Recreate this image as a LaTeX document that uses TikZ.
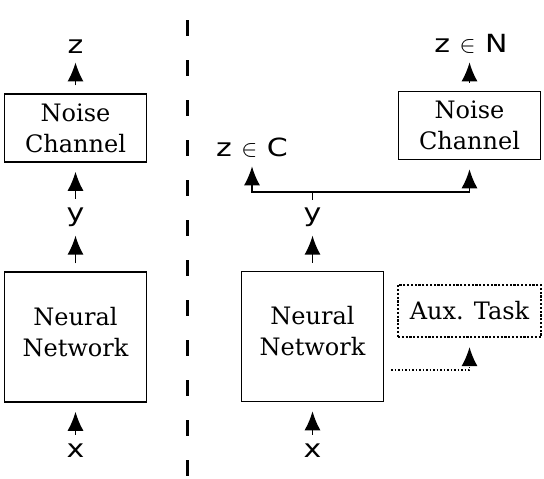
\documentclass[tikz,border=0pt]{standalone}
\usepackage{fontspec}
\setmainfont{DejaVu Serif}
\newfontfamily\signalfont[FakeStretch=1.2]{DejaVu Sans}
\usetikzlibrary{arrows.meta}

\tikzset{
  block/.style={draw, line width=0.75pt, inner sep=0pt, align=center,
    font=\fontsize{12}{15.5}\selectfont},
  netblock/.style={block, minimum width=71pt, minimum height=65pt, text depth=5.5pt},
  chanblock/.style={block, minimum width=71pt, minimum height=34pt},
  auxblock/.style={block, minimum width=71.5pt, minimum height=26pt,
    line width=1.1pt, dash pattern=on 1.1pt off 0.8pt},
  sig/.style={inner sep=0pt, anchor=base, font=\signalfont\fontsize{12.5}{15}\selectfont},
  arr/.style={-{Latex[length=9.5pt,width=8pt]}, line width=0.75pt,
    shorten <=4pt, shorten >=4.5pt},
}

\begin{document}
\begin{tikzpicture}[x=0.5pt,y=-0.5pt]
   \useasboundingbox (0,0) rectangle (544,478);

   % separator
   \draw[line width=1.5pt, dash pattern=on 8pt off 12pt] (187,20) -- (187,478);

   % left: plain network
   \begin{scope}
     \node[chanblock] (nc1) at (75.5,128) {Noise\\Channel};
     \node[netblock] (nn1) at (75.5,337) {Neural\\Network};
     \node[sig] (z1) at (75.5,53) {z};
     \node[sig] (y1) at (75.5,221) {y};
     \node[sig] (x1) at (75.5,457) {x};
     \draw[arr] (x1) -- (nn1);
     \draw[arr] (nn1) -- (y1);
     \draw[arr] (y1) -- (nc1);
     \draw[arr] (nc1) -- (z1);
   \end{scope}

   % right: split output + auxiliary task
   \begin{scope}
     \node[netblock] (nn2) at (312.5,336.5) {Neural\\Network};
     \node[chanblock] (nc2) at (469.5,125.5) {Noise\\Channel};
     \node[auxblock] (aux) at (469.5,311) {Aux. Task};
     \node[sig] (x2) at (312.5,457) {x};
     \node[sig] (y2) at (312.5,221) {y};
     \node[sig] (zc) at (252,156) {z $\in$ C};
     \node[sig] (zn) at (471,52) {z $\in$ N};
     \coordinate (split) at (312.5,192);
     \coordinate (tap) at (391,370);
     \draw[arr] (x2) -- (nn2);
     \draw[arr] (nn2) -- (y2);
     \draw[line width=0.75pt, shorten <=3.5pt] (y2) -- (split);
     \draw[arr, shorten <=0pt] (split) -| (zc.south);
     \draw[arr, shorten <=0pt] (split) -| (nc2.south);
     \draw[arr] (nc2.north) -- (nc2.north |- zn.south);
     \draw[arr, densely dotted, shorten <=0pt] (tap) -| (aux.south);
   \end{scope}

\end{tikzpicture}
\end{document}
